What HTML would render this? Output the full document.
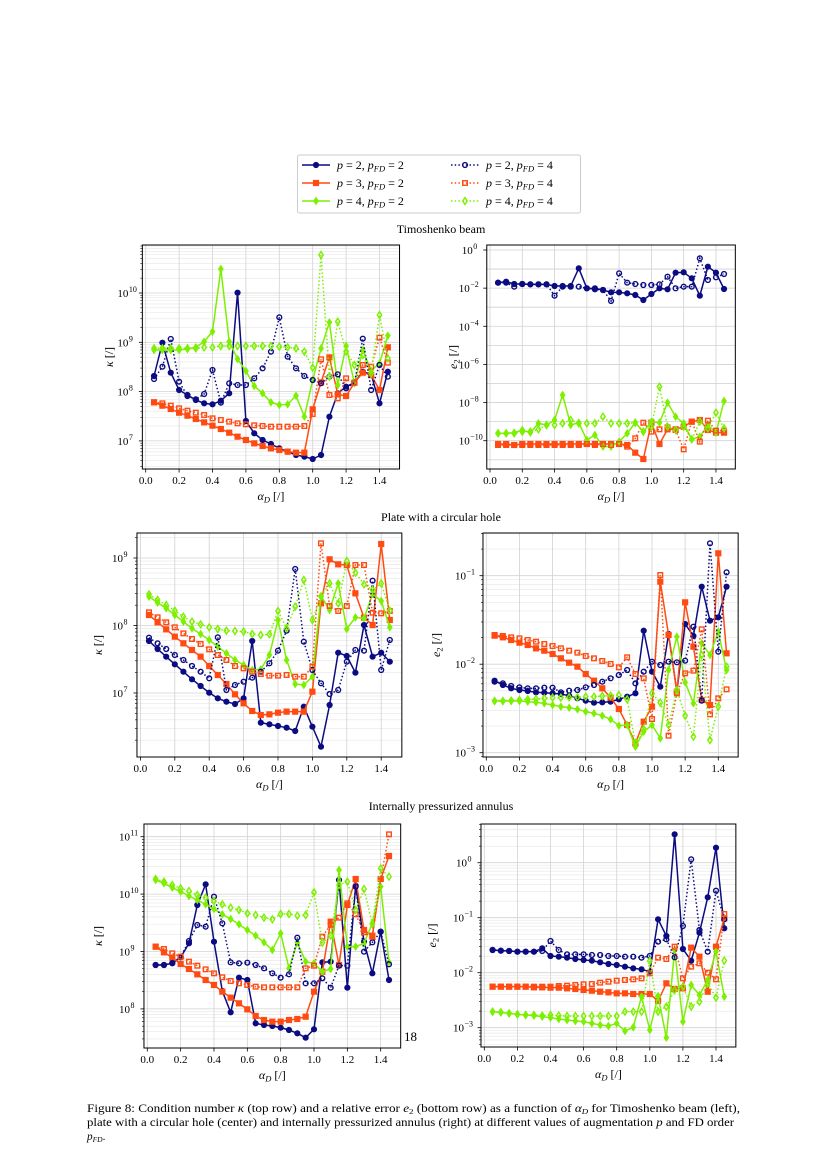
<!DOCTYPE html>
<html><head><meta charset="utf-8"><style>
body{margin:0;background:#fff;}
svg{display:block;font-family:"Liberation Serif",serif;}
</style></head><body>
<svg id="s" width="827" height="1169" viewBox="0 0 827 1169" xmlns="http://www.w3.org/2000/svg">
<rect width="827" height="1169" fill="#fff"/>
</svg>
<script>
const S=document.getElementById('s');const NS='http://www.w3.org/2000/svg';
function el(t,a,txt){const e=document.createElementNS(NS,t);for(const k in a)e.setAttribute(k,a[k]);if(txt!==undefined)e.textContent=txt;S.appendChild(e);return e;}
const C={n:'#0b0b82',o:'#ff4b12',g:'#7cf000'};
const P=[
{x0:145.7,sx:167,t:245,b:469,oy:240,yf:e=>293-(e-10)*49.3,ex:[10,9,8,7],yl:'κ',ylx:113,minor:true,
d:[
'408 308 398 450 465 480 490 493 482 460 158 543 580 600 612 625 635 645 650 657 645 530 460 440 428 395 403 490 395',
'487 497 507 518 527 537 547 557 567 578 590 600 610 618 625 630 635 638 638 508 427 352 463 468 428 398 405 450 322',
'330 330 330 330 327 322 305 275 87 305 357 393 438 460 487 495 493 467 530 420 325 247 435 318 430 330 392 370 287',
'417 380 297 425 468 478 462 390 488 430 435 435 415 385 335 232 350 385 408 420 430 410 403 445 428 296 450 375 410',
'487 490 497 505 512 518 525 535 540 545 550 553 556 558 560 560 560 560 558 522 358 465 475 415 428 375 380 293 368',
'325 325 325 325 325 325 322 322 318 318 318 318 318 318 318 320 322 325 335 383 45 410 245 335 375 345 400 225 355']},
{x0:490,sx:161.4,t:245,b:469,oy:240,yf:e=>250-e*19.07,ex:[0,-2,-4,-6,-8,-10],yl:'e',ylx:457,minor:false,
d:[
'128 125 132 132 133 133 133 138 138 138 85 145 145 150 157 157 160 165 180 162 145 148 98 97 115 167 80 98 147',
'612 612 615 612 612 612 612 612 612 612 612 612 612 612 612 612 615 638 657 548 612 568 568 560 545 540 570 578 578',
'580 580 578 570 578 550 555 540 465 555 548 600 585 620 620 605 580 548 575 545 548 488 530 550 598 590 555 578 483',
'128 128 140 132 133 133 133 167 140 140 140 145 148 150 183 100 128 132 135 135 133 110 145 140 140 55 120 112 102',
'615 615 615 615 615 615 615 615 615 615 615 612 615 612 615 612 620 595 548 575 568 562 570 628 545 605 542 572 572',
'580 580 580 575 575 568 555 555 550 540 550 550 550 530 550 550 550 548 575 560 440 560 570 560 598 545 565 518 565']},
{x0:140.4,sx:172,t:533,b:757,oy:530,yf:e=>558-(e-9)*67.5,ex:[9,8,7],yl:'κ',ylx:102,minor:true,
d:[
'333 357 380 403 425 448 468 488 505 515 522 505 333 578 583 588 593 603 530 590 650 525 368 378 428 285 380 368 395',
'255 277 298 320 340 360 380 408 435 462 493 520 543 555 553 548 545 545 545 485 220 88 103 105 190 263 285 42 270',
'200 218 235 255 275 295 312 330 350 370 390 405 420 418 375 270 390 462 465 440 198 240 160 297 262 265 192 213 292',
'323 340 357 375 390 408 425 445 322 480 465 455 443 425 400 362 302 117 335 420 460 492 480 395 360 362 152 420 330',
'247 262 277 292 310 327 342 358 375 390 408 415 425 432 437 437 435 440 440 410 40 228 243 228 105 105 248 250 243',
'193 210 225 242 260 275 283 292 297 302 303 305 312 315 313 243 295 230 150 270 200 160 220 93 128 163 180 160 242']},
{x0:486.3,sx:165.7,t:533,b:757,oy:530,yf:e=>575.7-(e+1)*88.5,ex:[-1,-2,-3],yl:'e',ylx:440,minor:true,
d:[
'452 465 475 480 483 487 488 490 492 497 505 512 518 517 515 508 500 490 302 425 470 312 485 282 318 170 272 262 170',
'317 322 330 338 345 355 362 372 385 398 410 432 452 475 503 537 585 640 575 530 155 315 485 217 350 510 525 70 370',
'513 513 513 513 515 517 520 525 530 533 538 545 550 557 568 587 585 650 605 585 625 420 320 457 520 340 375 305 420',
'455 460 468 472 475 475 473 473 487 482 480 472 465 455 445 435 420 460 425 395 405 395 397 392 290 512 40 365 127',
'315 318 322 325 330 335 342 348 355 362 368 378 385 393 402 412 382 432 445 567 135 617 490 430 422 298 553 505 478',
'513 513 512 510 508 507 505 503 503 502 502 500 500 498 497 495 508 640 597 490 518 585 480 557 620 375 630 530 410']},
{x0:147.3,sx:166.7,t:824,b:1048,oy:815,yf:e=>836.7-(e-11)*57.4,ex:[11,10,9,8],yl:'κ',ylx:102,minor:true,
d:[
'450 450 445 427 385 270 208 380 528 592 488 495 625 630 633 638 645 655 668 643 442 440 195 518 212 380 475 350 495',
'395 412 428 447 462 478 495 510 530 548 565 583 603 615 620 620 615 612 605 530 470 320 450 270 192 345 362 192 123',
'195 205 218 230 243 255 268 282 298 312 328 345 362 382 405 355 460 383 440 445 470 462 165 395 395 385 325 215 442',
'450 450 444 426 378 330 335 245 325 442 445 443 450 460 475 488 478 368 505 505 490 518 452 452 215 410 382 350 448',
'395 402 415 425 440 452 463 475 487 498 505 510 515 517 517 517 517 517 460 452 365 330 308 265 298 352 365 192 58',
'192 200 210 220 228 240 248 258 268 278 285 295 300 308 313 297 297 302 300 232 383 362 210 200 285 222 327 160 185']},
{x0:484.3,sx:165.5,t:824,b:1047,oy:815,yf:e=>862.7-e*55,ex:[0,-1,-2,-3],yl:'e',ylx:436,minor:true,
d:[
'405 407 408 410 410 410 400 423 425 428 432 435 437 442 447 450 455 460 463 470 313 363 58 402 437 353 247 98 340',
'515 515 515 515 515 517 517 518 518 520 522 525 527 530 532 535 535 537 537 537 558 505 522 520 398 425 530 395 310',
'590 592 595 598 600 602 605 608 612 615 618 620 625 630 633 625 648 637 545 645 543 668 405 620 510 540 495 410 545',
'405 407 408 410 410 410 408 378 405 418 418 418 420 420 423 423 425 425 428 423 380 373 427 333 133 345 410 227 313',
'515 515 515 515 515 515 515 515 513 512 510 508 507 503 500 497 495 493 490 475 428 432 395 490 455 445 473 493 297',
'590 592 595 598 600 600 602 600 602 603 603 603 603 603 603 603 590 590 590 438 590 575 525 515 575 560 505 548 437']}
];
const cols=[C.n,C.o,C.g,C.n,C.o,C.g], mk=['c','s','d','c','s','d'], dot=[0,0,0,1,1,1];
function marker(x,y,m,c,open){
 const f=open?'none':c, sw=open?1.4:0.8;
 if(m==='c')el('circle',{cx:x,cy:y,r:open?2.4:2.7,fill:f,stroke:c,'stroke-width':sw});
 else if(m==='s'){const h=open?2.3:2.7;el('rect',{x:x-h,y:y-h,width:2*h,height:2*h,fill:f,stroke:c,'stroke-width':sw});}
 else {const w=open?2.2:2.4,h=open?3.4:3.6;el('polygon',{points:`${x},${y-h} ${x+w},${y} ${x},${y+h} ${x-w},${y}`,fill:f,stroke:c,'stroke-width':sw});}
}
P.forEach(p=>{
 const l=p.x0-0.02*p.sx, r=p.x0+1.52*p.sx;
 if(p.minor){for(let e=-12;e<12;e++)for(let k=2;k<10;k++){const y=p.yf(e+Math.log10(k));if(y>p.t&&y<p.b)el('line',{x1:l,x2:r,y1:y,y2:y,stroke:'#e6e6e6','stroke-width':0.6});}}
 else{for(let e=-11;e<=0;e+=2){const y=p.yf(e);if(y>p.t&&y<p.b)el('line',{x1:l,x2:r,y1:y,y2:y,stroke:'#e6e6e6','stroke-width':0.6});}}
 for(let e=-12;e<12;e++){const y=p.yf(e);if(y>p.t&&y<p.b){el('line',{x1:l,x2:r,y1:y,y2:y,stroke:'#d2d2d2','stroke-width':0.8});}}
 for(let i=0;i<=7;i++){const x=p.x0+i*0.2*p.sx;el('line',{x1:x,x2:x,y1:p.t,y2:p.b,stroke:'#d2d2d2','stroke-width':0.8});
  el('line',{x1:x,x2:x,y1:p.b,y2:p.b+3.5,stroke:'#000','stroke-width':0.8});
  el('text',{x:x,y:p.b+15,'font-size':11,'text-anchor':'middle'},(i*0.2).toFixed(1));}
 p.ex.forEach(e=>{const y=p.yf(e);el('line',{x1:l-3.5,x2:l,y1:y,y2:y,stroke:'#000','stroke-width':0.8});
  const t=el('text',{x:l-14,y:y+4,'font-size':11,'text-anchor':'end'},'10');
  el('text',{x:l-13.5,y:y-1,'font-size':8,'text-anchor':'start'},e<0?'−'+(-e):''+e);
  if(e<0)t.setAttribute('x',l-17),S.lastChild.setAttribute('x',l-16.5);});
 for(let e=-12;e<12;e++)for(let k=2;k<10;k++){const y=p.yf(e+Math.log10(k));if(y>p.t&&y<p.b&&p.minor)el('line',{x1:l-2,x2:l,y1:y,y2:y,stroke:'#000','stroke-width':0.6});}
 p.d.forEach((s,j)=>{const v=s.split(' ').map(Number);const pts=v.map((yz,i)=>[p.x0+0.05*(i+1)*p.sx,p.oy+yz/3]);
  const a={points:pts.map(q=>q.join(',')).join(' '),fill:'none',stroke:cols[j],'stroke-width':1.5};
  if(dot[j])a['stroke-dasharray']='1.5,2.2';
  el('polyline',a);pts.forEach(q=>marker(q[0],q[1],mk[j],cols[j],dot[j]));});
 el('rect',{x:l,y:p.t,width:r-l,height:p.b-p.t,fill:'none',stroke:'#000','stroke-width':1});
 const xm=(l+r)/2;
 const xl=el('text',{x:xm,y:p.b+31,'font-size':12,'text-anchor':'middle','font-style':'italic'});
 xl.innerHTML='α<tspan font-size="8.5" dy="2.5">D</tspan><tspan font-style="normal" dy="-2.5"> [/]</tspan>';
 const ym=(p.t+p.b)/2;
 const yl=el('text',{x:0,y:0,'font-size':12,'text-anchor':'middle',transform:`translate(${p.ylx},${ym}) rotate(-90)`});
 if(p.yl==='κ')yl.innerHTML='<tspan font-style="italic">κ</tspan> [/]';
 else yl.innerHTML='<tspan font-style="italic">e</tspan><tspan font-size="8.5" dy="2.5">2</tspan><tspan dy="-2.5"> [/]</tspan>';
});
el('text',{x:441,y:233,'font-size':12,'text-anchor':'middle'},'Timoshenko beam');
el('text',{x:441,y:521,'font-size':12,'text-anchor':'middle'},'Plate with a circular hole');
el('text',{x:441,y:810,'font-size':12,'text-anchor':'middle'},'Internally pressurized annulus');
el('text',{x:404,y:1041,'font-size':13},'18');
el('rect',{x:297.5,y:155,width:283,height:58,rx:2,fill:'#fff',stroke:'#cccccc','stroke-width':1});
[[0,165],[1,183],[2,201]].forEach(([j,y])=>{
 const pv=[2,3,4][j];
 el('line',{x1:302,x2:330,y1:y,y2:y,stroke:cols[j],'stroke-width':1.5});marker(316,y,mk[j],cols[j],false);
 let t=el('text',{x:337,y:y+4,'font-size':12});t.innerHTML=`<tspan font-style="italic">p</tspan> = ${pv}, <tspan font-style="italic">p</tspan><tspan font-size="8.5" font-style="italic" dy="2.5">FD</tspan><tspan dy="-2.5"> = 2</tspan>`;
 el('line',{x1:451,x2:479,y1:y,y2:y,stroke:cols[j],'stroke-width':1.5,'stroke-dasharray':'1.5,2.2'});marker(465,y,mk[j],cols[j],true);
 t=el('text',{x:486,y:y+4,'font-size':12});t.innerHTML=`<tspan font-style="italic">p</tspan> = ${pv}, <tspan font-style="italic">p</tspan><tspan font-size="8.5" font-style="italic" dy="2.5">FD</tspan><tspan dy="-2.5"> = 4</tspan>`;
});
const cap=['Figure 8: Condition number <tspan font-style="italic">κ</tspan> (top row) and a relative error <tspan font-style="italic">e</tspan><tspan font-size="7.5" dy="2">2</tspan><tspan dy="-2"> (bottom row) as a function of </tspan><tspan font-style="italic">α</tspan><tspan font-size="7.5" font-style="italic" dy="2">D</tspan><tspan dy="-2"> for Timoshenko beam (left),</tspan>',
'plate with a circular hole (center) and internally pressurized annulus (right) at different values of augmentation <tspan font-style="italic">p</tspan> and FD order',
'<tspan font-style="italic">p</tspan><tspan font-size="7.5" font-style="italic" dy="2">FD</tspan><tspan dy="-2">.</tspan>'];
const tl=[653,647,null];
cap.forEach((c,i)=>{const a={x:87,y:1112+i*14,'font-size':11.2};if(tl[i]){a.textLength=tl[i];a.lengthAdjust='spacingAndGlyphs';}const t=el('text',a);t.innerHTML=c;});
</script>
</body></html>
